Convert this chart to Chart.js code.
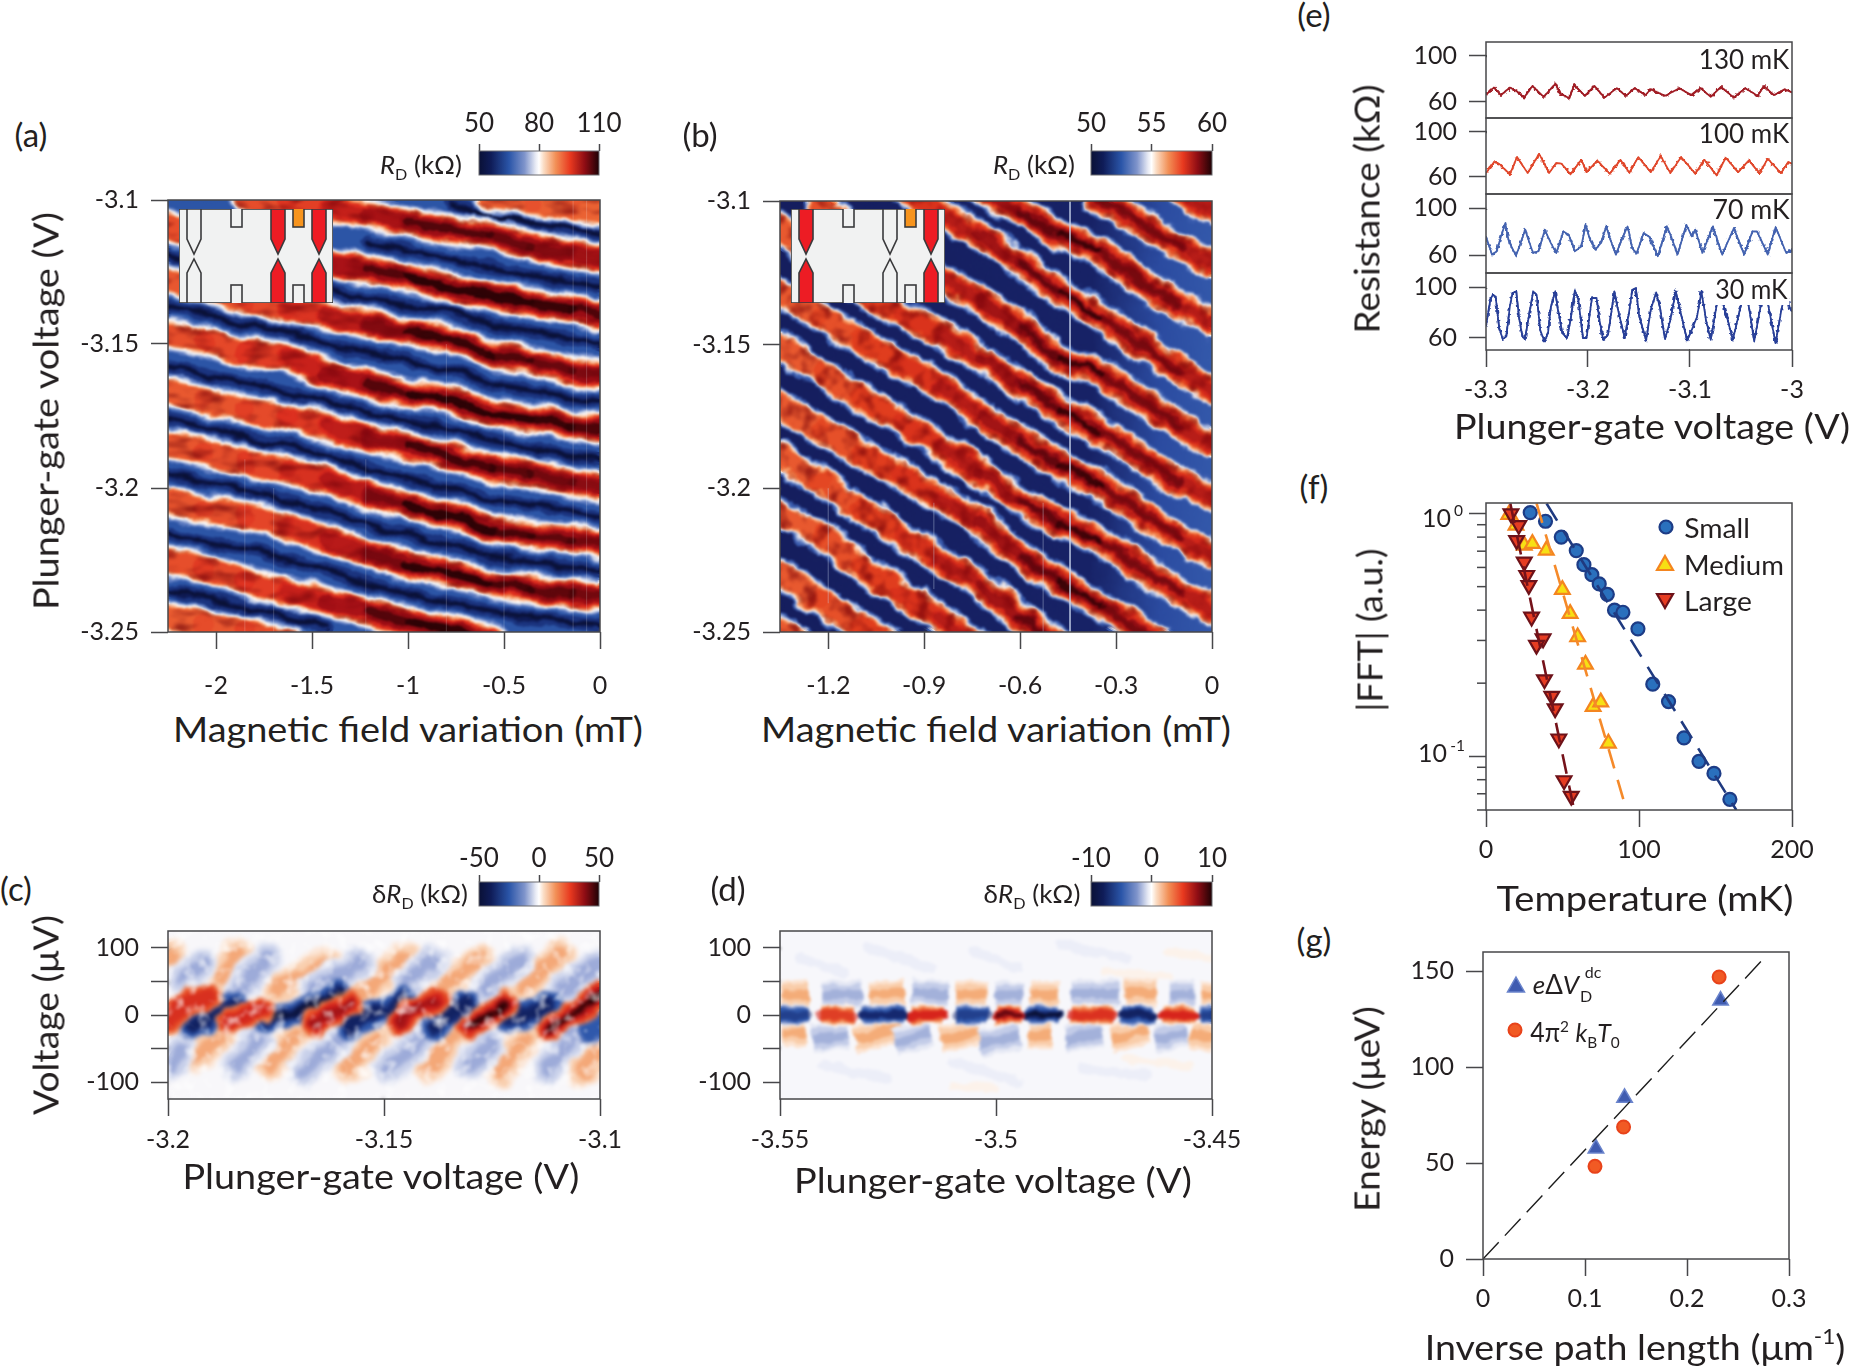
<!DOCTYPE html>
<html>
<head>
<meta charset="utf-8">
<title>Interferometer measurements</title>
<script src="https://cdn.jsdelivr.net/npm/chart.js@4/dist/chart.umd.min.js"></script>
<style>
  html, body { margin: 0; background: #fff; }
  #page { position: relative; width: 1850px; height: 1367px; overflow: hidden; background: #fff; color: #231f20; font-family: Lato, sans-serif; }
  #page canvas { position: absolute; }
  .txt { position: absolute; white-space: nowrap; line-height: 1; }
  .txt sub, .txt sup { font-size: 62%; line-height: 0; }
  .inset { position: absolute; }
</style>
</head>
<body>
<div id="page">
  <svg width="0" height="0" style="position:absolute">
    <filter id="warpA" x="0" y="0" width="100%" height="100%" color-interpolation-filters="sRGB">
      <feTurbulence type="fractalNoise" baseFrequency="0.035 0.05" numOctaves="3" seed="7" result="n"/>
      <feDisplacementMap in="SourceGraphic" in2="n" scale="11" xChannelSelector="R" yChannelSelector="G" result="d"/>
      <feGaussianBlur in="d" stdDeviation="1.2" result="soft"/>
      <feColorMatrix in="soft" type="matrix" values="0 0 0 0 0.42  0 0 0 0 0  0 0 0 0 0.03  0.8 0 -0.8 0 0" result="mask"/>
      <feTurbulence type="fractalNoise" baseFrequency="0.04 0.09" numOctaves="2" seed="5"/>
      <feColorMatrix type="matrix" values="0 0 0 0 0  0 0 0 0 0  0 0 0 0 0  3 0 0 0 -1.35"/>
      <feGaussianBlur stdDeviation="1" result="spots"/>
      <feComposite in="mask" in2="spots" operator="in" result="dark"/>
      <feMerge><feMergeNode in="soft"/><feMergeNode in="dark"/></feMerge>
    </filter>
    <filter id="warpB" x="0" y="0" width="100%" height="100%" color-interpolation-filters="sRGB">
      <feTurbulence type="fractalNoise" baseFrequency="0.05" numOctaves="4" seed="3" result="n"/>
      <feDisplacementMap in="SourceGraphic" in2="n" scale="13" xChannelSelector="R" yChannelSelector="G" result="d"/>
      <feGaussianBlur in="d" stdDeviation="1" result="soft"/>
      <feColorMatrix in="soft" type="matrix" values="0 0 0 0 0.45  0 0 0 0 0  0 0 0 0 0.03  0.85 0 -0.85 0 0" result="mask"/>
      <feTurbulence type="fractalNoise" baseFrequency="0.07" numOctaves="2" seed="9"/>
      <feColorMatrix type="matrix" values="0 0 0 0 0  0 0 0 0 0  0 0 0 0 0  3 0 0 0 -1.3"/>
      <feGaussianBlur stdDeviation="1" result="spots"/>
      <feComposite in="mask" in2="spots" operator="in" result="dark"/>
      <feMerge><feMergeNode in="soft"/><feMergeNode in="dark"/></feMerge>
    </filter>
    <filter id="warpC" x="0" y="0" width="100%" height="100%" color-interpolation-filters="sRGB">
      <feTurbulence type="fractalNoise" baseFrequency="0.06" numOctaves="3" seed="11" result="n"/>
      <feDisplacementMap in="SourceGraphic" in2="n" scale="12" xChannelSelector="R" yChannelSelector="G" result="d"/>
      <feGaussianBlur in="d" stdDeviation="2.2" result="soft"/>
      <feTurbulence type="fractalNoise" baseFrequency="0.08" numOctaves="2" seed="4"/>
      <feColorMatrix type="matrix" values="0 0 0 0 1  0 0 0 0 1  0 0 0 0 1  2 0 0 0 -1"/>
      <feGaussianBlur stdDeviation="1.2" result="spots"/>
      <feMerge><feMergeNode in="soft"/><feMergeNode in="spots"/></feMerge>
    </filter>
    <filter id="warpD" x="0" y="0" width="100%" height="100%" color-interpolation-filters="sRGB">
      <feTurbulence type="fractalNoise" baseFrequency="0.07" numOctaves="3" seed="2" result="n"/>
      <feDisplacementMap in="SourceGraphic" in2="n" scale="8" xChannelSelector="R" yChannelSelector="G" result="d"/>
      <feGaussianBlur in="d" stdDeviation="1.7"/>
    </filter>
    <filter id="warpE" x="0" y="0" width="100%" height="100%" color-interpolation-filters="sRGB">
      <feTurbulence type="fractalNoise" baseFrequency="0.28" numOctaves="2" seed="6" result="n"/>
      <feDisplacementMap in="SourceGraphic" in2="n" scale="5" xChannelSelector="R" yChannelSelector="G"/>
    </filter>
  </svg>
</div>
<script>
// ---- (a) gate voltage of the resistance ridges, one value per field column
const fieldA = [-2.25, -2.06, -1.85, -1.63, -1.42, -1.21, -1, -0.78, -0.57, -0.36, -0.15, 0];
const redRidgesA = [
  [null, null, null, null, null, null, null, null, -3.0988, -3.1006, -3.1021, -3.1038],
  [null, null, -3.0984, -3.1006, -3.1028, -3.105, -3.1079, -3.1101, -3.1123, -3.116, -3.1189, -3.1204],
  [-3.1094, -3.1123, -3.116, -3.1189, -3.1218, -3.124, -3.127, -3.1306, -3.1335, -3.1357, -3.1379, -3.1401],
  [-3.1277, -3.1306, -3.1343, -3.1379, -3.1401, -3.1431, -3.146, -3.1482, -3.1533, -3.1562, -3.1592, -3.1606],
  [-3.1467, -3.1489, -3.1526, -3.1548, -3.1606, -3.1636, -3.1672, -3.1694, -3.1738, -3.176, -3.1782, -3.1797],
  [-3.1665, -3.1694, -3.1731, -3.1753, -3.1789, -3.1826, -3.1855, -3.1892, -3.1929, -3.1951, -3.198, -3.1995],
  [-3.1848, -3.1877, -3.1907, -3.1943, -3.1973, -3.2024, -3.206, -3.2097, -3.2141, -3.2163, -3.2178, -3.2192],
  [-3.2046, -3.2075, -3.2097, -3.2134, -3.2178, -3.2229, -3.2266, -3.2295, -3.2331, -3.2353, -3.2368, -3.2375],
  [-3.2251, -3.228, -3.2324, -3.2361, -3.2397, -3.2427, -3.2463, -3.2493, -3.2522],
  [-3.2449, -3.2471, -3.25, -3.2529]
];
const blueRidgesA = [
  [null, null, null, null, null, null, null, -3.1013, -3.1057, -3.1079, -3.1101, -3.1116],
  [null, null, null, null, null, -3.1145, -3.1174, -3.1204, -3.1233, -3.1262, -3.1284, -3.1299],
  [-3.1189, -3.1218, -3.1248, -3.1277, -3.1313, -3.1343, -3.1365, -3.1387, -3.1431, -3.146, -3.1482, -3.1504],
  [-3.1372, -3.1394, -3.1431, -3.146, -3.1504, -3.1533, -3.1562, -3.1592, -3.1636, -3.1665, -3.1687, -3.1702],
  [-3.1577, -3.1606, -3.1636, -3.1665, -3.1702, -3.1731, -3.1768, -3.1797, -3.1833, -3.1863, -3.1885, -3.1899],
  [-3.176, -3.1789, -3.1826, -3.1855, -3.1885, -3.1929, -3.1965, -3.2002, -3.2039, -3.206, -3.2082, -3.2097],
  [-3.1951, -3.198, -3.2009, -3.2046, -3.2082, -3.2126, -3.2163, -3.22, -3.2236, -3.2258, -3.2273, -3.2288],
  [-3.2156, -3.2185, -3.2214, -3.2251, -3.2288, -3.2331, -3.2368, -3.2397, -3.2427, -3.2449, -3.2463, -3.2478],
  [-3.2353, -3.2383, -3.2412, -3.2449, -3.2485]
];
const hotColumnsA = [0.44, 0.47, 0.52, 0.6, 0.72, 0.85, 1, 1, 0.95, 0.9, 0.86, 0.8];
const hotRidgesA = [0.4, 0.85, 1, 0.9, 1, 0.88, 0.92, 0.92, 1, 0.85];
const streaksA = [
  [[-1.85, -3.19], [-1.85, -3.25]], [[-1.7, -3.2], [-1.7, -3.25]], [[-1.22, -3.19], [-1.22, -3.25]],
  [[-0.8, -3.15], [-0.8, -3.25]], [[-0.5, -3.18], [-0.5, -3.25]], [[-0.14, -3.1], [-0.14, -3.25]], [[-0.07, -3.1], [-0.07, -3.25]]
];

// ---- (b) same thing for the second device
const fieldB = [-1.351, -1.226, -1.101, -0.976, -0.851, -0.726, -0.601, -0.476, -0.351, -0.226, -0.101, 0];
const redRidgesB = [
  [null, null, null, null, null, null, null, null, null, null, -3.097, -3.1037],
  [null, null, null, null, null, null, null, null, -3.0998, -3.1075, -3.1158, -3.1221],
  [null, null, null, null, null, -3.0963, -3.104, -3.1117, -3.1179, -3.1277, -3.1364, -3.1423],
  [null, null, null, -3.095, -3.1044, -3.112, -3.1214, -3.1315, -3.1402, -3.1499, -3.159, -3.1659],
  [null, -3.1016, -3.111, -3.1197, -3.1265, -3.1347, -3.1437, -3.1548, -3.16, -3.1694, -3.1785, -3.1844],
  [-3.1096, -3.12, -3.1318, -3.1392, -3.1461, -3.1548, -3.1635, -3.1726, -3.1802, -3.1886, -3.198, -3.2032],
  [-3.1315, -3.1402, -3.1485, -3.1566, -3.1642, -3.1743, -3.1833, -3.192, -3.1987, -3.2084, -3.2171, -3.223],
  [-3.1503, -3.1597, -3.1684, -3.1767, -3.1851, -3.1945, -3.2042, -3.2122, -3.2185, -3.2272, -3.2362, -3.2425],
  [-3.1712, -3.1795, -3.1879, -3.1952, -3.2039, -3.2119, -3.2234, -3.2321, -3.2408, -3.2491, -3.2582],
  [-3.1886, -3.1976, -3.207, -3.2161, -3.2248, -3.2338, -3.2449, -3.2536],
  [-3.2084, -3.2164, -3.2272, -3.2362, -3.2453, -3.2547],
  [-3.2296, -3.239, -3.2477, -3.2564],
  [-3.2495, -3.2582]
];
const hotColumnsB = [0.34, 0.38, 0.48, 0.58, 0.72, 0.8, 0.88, 0.95, 0.85, 0.85, 0.72, 0.62];
const mainStreakB = [[[-0.444, -3.1], [-0.444, -3.25]]];
const faintStreaksB = [[[-0.528, -3.205], [-0.528, -3.25]], [[-0.87, -3.205], [-0.87, -3.235]], [[-1.2, -3.2], [-1.2, -3.24]]];

// ---- (c) lobes of the bias-voltage map as [gate V, bias uV] polylines
const centreRedC = [
  [[-3.2, -11], [-3.1972, 11], [-3.1906, 28]],
  [[-3.1854, -9], [-3.1783, 8]],
  [[-3.1665, -14], [-3.1632, -1], [-3.1575, 18]],
  [[-3.1466, -11], [-3.1424, 11], [-3.1377, 23]],
  [[-3.1301, -16], [-3.1254, 1], [-3.1216, 16]],
  [[-3.1117, -19], [-3.1065, 1], [-3.1, 31]]
];
const centreRedHeatC = [0.55, 0.6, 0.8, 0.8, 1, 1];
const centreBlueC = [
  [[-3.1948, -19], [-3.1887, 1], [-3.1849, 16]],
  [[-3.1773, -6], [-3.1726, 1], [-3.167, 13], [-3.1603, 31]],
  [[-3.1585, -19], [-3.1537, 1], [-3.149, 8], [-3.1457, 23]],
  [[-3.1386, -19], [-3.1348, 1], [-3.1311, 16]],
  [[-3.1212, -6], [-3.116, 3], [-3.1117, 16]],
  [[-3.1023, -24], [-3.1, -1]]
];
const centreBlueHeatC = [0.8, 1, 0.8, 0.8, 0.8, 0.4];
const sideOrangeC = [
  [[-3.2, 83], [-3.1986, 90]],
  [[-3.1877, 56], [-3.1839, 90]], [[-3.1745, 41], [-3.1632, 76]], [[-3.1547, 36], [-3.1452, 85]],
  [[-3.1358, 46], [-3.1282, 81]], [[-3.1178, 41], [-3.1093, 90]],
  [[-3.1943, -64], [-3.1877, -34]], [[-3.1764, -74], [-3.1707, -34]], [[-3.1585, -79], [-3.1518, -34]],
  [[-3.1396, -79], [-3.1339, -34]], [[-3.1235, -84], [-3.1169, -34]], [[-3.1037, -84], [-3.1, -44]]
];
const sideBlueC = [
  [[-3.1962, 56], [-3.1924, 76]], [[-3.183, 41], [-3.1773, 85]], [[-3.166, 41], [-3.1556, 76]],
  [[-3.1443, 51], [-3.1386, 81]], [[-3.1263, 41], [-3.1188, 81]], [[-3.1084, 41], [-3.1, 76]],
  [[-3.1991, -74], [-3.1972, -54]], [[-3.1839, -74], [-3.1792, -39]], [[-3.1688, -84], [-3.1603, -39]],
  [[-3.149, -79], [-3.1415, -39]], [[-3.1301, -74], [-3.1254, -44]], [[-3.1122, -79], [-3.1065, -34]]
];

// ---- (d)
const centreRedD = [
  [[-3.5404, 0], [-3.533, 0]], [[-3.5193, 0], [-3.5123, 0]], [[-3.4999, 0], [-3.4941, 0]],
  [[-3.4826, 0], [-3.4731, 0]], [[-3.4615, 0], [-3.4541, 0]]
];
const centreRedHeatD = [0.6, 0.75, 1, 0.65, 0.75];
const centreBlueD = [
  [[-3.55, 0], [-3.5433, 0]], [[-3.5309, 0], [-3.521, 0]], [[-3.5094, 0], [-3.502, 0]],
  [[-3.4925, 0], [-3.4855, 0]], [[-3.471, 0], [-3.4636, 0]], [[-3.4528, 0], [-3.45, 0]]
];
const centreBlueHeatD = [0.55, 0.7, 0.55, 1, 0.8, 0.55];
const sideOrangeD = [
  [[-3.5495, 30], [-3.5433, 30]], [[-3.5293, 30], [-3.521, 33]], [[-3.5094, 30], [-3.502, 30]],
  [[-3.4921, 30], [-3.4855, 30]], [[-3.4702, 34], [-3.4627, 34]], [[-3.4524, 30], [-3.45, 30]],
  [[-3.5495, -27], [-3.5441, -27]], [[-3.5326, -36], [-3.5218, -20]], [[-3.5127, -36], [-3.5036, -24]],
  [[-3.4925, -30], [-3.4871, -30]], [[-3.4731, -36], [-3.4648, -22]], [[-3.4549, -30], [-3.45, -34]]
];
const sideBlueD = [
  [[-3.5404, 30], [-3.5309, 30]], [[-3.5193, 34], [-3.5111, 30]], [[-3.5003, 30], [-3.4937, 30]],
  [[-3.4826, 32], [-3.4714, 32]], [[-3.4602, 30], [-3.4541, 30]],
  [[-3.5425, -36], [-3.5342, -30]], [[-3.5235, -42], [-3.5152, -26]], [[-3.5036, -42], [-3.4945, -30]],
  [[-3.4838, -36], [-3.4755, -26]], [[-3.4631, -36], [-3.4557, -26]]
];
const paleBlueD = [
  [[-3.545, 85], [-3.535, 62]], [[-3.53, 100], [-3.515, 70]], [[-3.505, 95], [-3.495, 70]], [[-3.54, -75], [-3.525, -95]],
  [[-3.51, -70], [-3.495, -100]], [[-3.485, 105], [-3.47, 85]], [[-3.48, -80], [-3.465, -90]]
];
const paleOrangeD = [
  [[-3.475, 65], [-3.46, 58]], [[-3.46, 95], [-3.45, 85]], [[-3.51, -105], [-3.5, -110]], [[-3.47, -65], [-3.455, -75]]
];

// ---- (e) resistance traces as [gate V, kOhm]
const trace130 = [[-3.3, 65.8], [-3.2923, 72.3], [-3.2853, 65.6], [-3.2766, 72.3], [-3.2696, 68.8], [-3.2626, 63.5], [-3.2545, 73.7], [-3.2434, 64.1], [-3.2318, 75.8], [-3.2276, 67], [-3.2182, 62.9], [-3.2136, 74.6], [-3.2031, 65], [-3.1937, 73.7], [-3.1839, 63.5], [-3.1717, 71.7], [-3.1629, 65], [-3.1542, 71.7], [-3.1437, 65.8], [-3.1385, 70.8], [-3.1245, 65], [-3.1105, 71.7], [-3.0983, 65.6], [-3.0895, 71.7], [-3.0797, 64.1], [-3.0696, 72.9], [-3.057, 63.5], [-3.0458, 71.7], [-3.0336, 65], [-3.0276, 73.7], [-3.0178, 65.6], [-3.0073, 70.8], [-3, 67.9]];
const trace100 = [[-3.3, 63.2], [-3.2923, 72.9], [-3.2871, 71.5], [-3.2766, 62.1], [-3.2696, 77.4], [-3.2591, 63.2], [-3.2479, 80.3], [-3.2381, 63.2], [-3.2311, 72.1], [-3.2259, 71.5], [-3.2171, 62.1], [-3.2066, 75], [-3.2014, 64.1], [-3.1909, 74.4], [-3.1787, 62.6], [-3.1682, 75], [-3.1594, 63.5], [-3.1507, 77.4], [-3.1385, 64.1], [-3.1287, 78.2], [-3.1192, 63.2], [-3.1087, 77.4], [-3.0948, 62.6], [-3.086, 75], [-3.0738, 61.2], [-3.065, 76.8], [-3.0528, 64.1], [-3.0423, 74.4], [-3.0318, 63.2], [-3.0238, 75.9], [-3.0108, 63.2], [-3.0038, 72.9], [-3, 71.5]];
const trace70 = [[-3.3, 76], [-3.2941, 60.6], [-3.2895, 63.4], [-3.2853, 76], [-3.2811, 87.3], [-3.2776, 71.8], [-3.2706, 59.7], [-3.2661, 70.4], [-3.2615, 81.7], [-3.2573, 70.4], [-3.2538, 62], [-3.2486, 63.4], [-3.2423, 81.7], [-3.2364, 70.4], [-3.2311, 62], [-3.2241, 80.3], [-3.2189, 77.5], [-3.2129, 63.4], [-3.2066, 67.6], [-3.2024, 85.9], [-3.1979, 73.2], [-3.1927, 64.8], [-3.1874, 70.4], [-3.1822, 84.5], [-3.178, 73.2], [-3.1727, 60.6], [-3.1664, 74.6], [-3.1612, 84.5], [-3.1566, 66.2], [-3.1524, 61.4], [-3.1455, 78.9], [-3.1402, 76], [-3.1315, 59.2], [-3.1227, 84.5], [-3.1185, 76], [-3.1122, 60.6], [-3.1035, 85.9], [-3.0983, 76], [-3.0948, 81.7], [-3.0878, 62], [-3.0776, 84.5], [-3.0685, 60.6], [-3.057, 83.1], [-3.0469, 60.6], [-3.0388, 80.3], [-3.0343, 80.3], [-3.0238, 60.6], [-3.0161, 83.9], [-3.0056, 62], [-3, 64.8]];
const trace30 = [[-3.3, 68.8], [-3.2958, 90.1], [-3.2934, 94.1], [-3.2906, 92.8], [-3.2871, 67.5], [-3.2836, 58.7], [-3.2801, 60.8], [-3.2766, 84.8], [-3.2741, 95.5], [-3.2703, 96.8], [-3.2678, 76.8], [-3.2643, 60.8], [-3.2619, 58.7], [-3.258, 76.8], [-3.2538, 96.8], [-3.2503, 94.1], [-3.2469, 66.1], [-3.2427, 56.8], [-3.2392, 63.5], [-3.2364, 84.8], [-3.2322, 96.8], [-3.2294, 82.1], [-3.2252, 63.5], [-3.2206, 59.5], [-3.2171, 74.1], [-3.2129, 97.6], [-3.2094, 90.1], [-3.2049, 59.5], [-3.2014, 59.5], [-3.1962, 91.5], [-3.1916, 91.5], [-3.1888, 74.1], [-3.185, 58.1], [-3.1804, 62.1], [-3.1741, 96.8], [-3.1706, 82.1], [-3.164, 59.5], [-3.1594, 82.1], [-3.1566, 98.1], [-3.1531, 99.5], [-3.1497, 76.8], [-3.143, 57.6], [-3.1385, 82.1], [-3.1332, 96], [-3.1297, 84.8], [-3.1245, 58.7], [-3.1192, 74.1], [-3.114, 96.8], [-3.1105, 84.8], [-3.1028, 57.6], [-3.0983, 66.1], [-3.093, 76.8], [-3.0888, 96.8], [-3.0843, 74.1], [-3.0797, 58.1], [-3.0738, 86.1], [-3.0703, 94], [-3.0643, 78], [-3.058, 58.1], [-3.0503, 84.8], [-3.0458, 95.5], [-3.0423, 84.8], [-3.0371, 56.8], [-3.0308, 84.8], [-3.0273, 95.5], [-3.0231, 84.8], [-3.0161, 55.5], [-3.0098, 84.8], [-3.0056, 95.5], [-3.0021, 83.5], [-3, 80.8]];

// ---- (f) FFT amplitude against temperature
const smallPts = [[28.9, 1.01], [38.9, 0.93], [49.2, 0.8], [59, 0.704], [64, 0.616], [69.2, 0.56], [74, 0.513], [79.3, 0.465], [84, 0.4], [89.5, 0.392], [99.3, 0.335], [109, 0.198], [119.3, 0.168], [129.4, 0.119], [139.2, 0.0952], [149, 0.0849], [159.4, 0.0664]];
const mediumPts = [[14.9, 0.99], [19.6, 0.895], [25, 0.74], [30.3, 0.752], [39.4, 0.706], [49.9, 0.486], [55, 0.387], [59.9, 0.31], [65, 0.239], [70, 0.16], [75, 0.167], [80, 0.113]];
const largePts = [[16.3, 1], [21.4, 0.895], [20, 0.776], [25, 0.632], [26.6, 0.557], [28, 0.506], [29.8, 0.375], [37.3, 0.305], [33, 0.287], [38.2, 0.207], [43, 0.177], [45.2, 0.157], [47.6, 0.118], [51, 0.0794], [55.7, 0.0685]];
const smallFit = [[39.6, 1.1], [163.6, 0.06]];
const mediumFit = [[33.1, 1.1], [91.8, 0.06]];
const largeFit = [[15.9, 1.1], [57.6, 0.06]];
const fftMinorTicks = [0.9, 0.8, 0.7, 0.6, 0.5, 0.4, 0.3, 0.2, 0.09, 0.08, 0.07, 0.06];

// ---- (g) energy scale against inverse path length
const biasEnergy = [[0.1107, 57.6], [0.1388, 84], [0.2329, 134.7]];
const thermalEnergy = [[0.1098, 48.3], [0.1378, 68.8], [0.2315, 147]];
const energyFit = [[0, 0], [0.2724, 155]];

// shared look
const INK = '#47474a';
const FONT = 'Lato';
const barStops = [
  [0, '#0a1136'], [0.1, '#0f1c58'], [0.25, '#2a55a8'], [0.38, '#7f94cb'], [0.47, '#e6e9f4'], [0.5, '#ffffff'],
  [0.54, '#fbdcc3'], [0.64, '#f28f56'], [0.76, '#e8391f'], [0.88, '#8f0d14'], [1, '#1f0205']
];

const page = document.getElementById('page');

function rgba(hex, a) {
  const n = parseInt(hex.slice(1), 16);
  return `rgba(${n >> 16},${(n >> 8) & 255},${n & 255},${Math.max(0, Math.min(1, a))})`;
}

// real text placed by its centre; w squeezes it to a given run length
function text(html, cx, cy, size, o = {}) {
  const s = document.createElement('span');
  s.className = 'txt';
  s.innerHTML = html;
  s.style.cssText = `left:${cx}px;top:${cy}px;font-size:${size}px;` + (o.css || '');
  page.appendChild(s);
  const k = o.w ? o.w / s.offsetWidth : 1;
  s.style.transform = `translate(-50%,-50%) rotate(${o.rot || 0}deg) scaleX(${k})`;
  return s;
}

const framePlugin = (color = INK, width = 1.5) => ({
  id: 'frame',
  afterDraw(chart) {
    const { ctx, chartArea: a } = chart;
    ctx.save();
    ctx.strokeStyle = color;
    ctx.lineWidth = width;
    ctx.strokeRect(a.left, a.top, a.width, a.height);
    ctx.restore();
  }
});

// backdrop of a map, painted over the grid and under the strokes
const backdropPlugin = (paint) => ({
  id: 'backdrop',
  beforeDatasetsDraw(chart) {
    const { ctx, chartArea: a } = chart;
    ctx.save();
    ctx.fillStyle = paint(ctx, a);
    ctx.fillRect(a.left, a.top, a.width, a.height);
    ctx.restore();
  }
});

// re-lays the finished strokes through an svg filter so the bands get their rough edges
const roughenPlugin = (filter, streakSets = []) => ({
  id: 'roughen',
  afterDatasetsDraw(chart) {
    const { ctx, canvas, chartArea: a, scales: { x, y } } = chart;
    ctx.save();
    ctx.beginPath();
    ctx.rect(a.left, a.top, a.width, a.height);
    ctx.clip();
    ctx.filter = filter;
    ctx.drawImage(canvas, 0, 0);
    ctx.filter = 'none';
    // sweep artefacts stay straight, they run on top of the rough bands
    streakSets.forEach(set => set.lines.forEach(s => {
      ctx.strokeStyle = set.c;
      ctx.lineWidth = set.w;
      ctx.beginPath();
      s.forEach(([vx, vy], i) => {
        const px = x.getPixelForValue(vx), py = y.getPixelForValue(vy);
        if (i) ctx.lineTo(px, py); else ctx.moveTo(px, py);
      });
      ctx.stroke();
    }));
    ctx.restore();
  }
});

function axis(position, min, max, ticks, label, o = {}) {
  const horizontal = position === 'bottom' || position === 'top';
  return {
    type: o.type || 'linear',
    position, min, max,
    display: o.display !== false,
    z: 1,
    grid: { drawOnChartArea: false, drawTicks: true, tickLength: o.tick ?? 17, tickColor: INK, tickWidth: 1.5 },
    border: { display: false },
    ticks: {
      autoSkip: false, maxRotation: 0, minRotation: 0, color: '#231f20',
      padding: o.pad ?? (horizontal ? 18 : 12),
      font: { family: FONT, size: o.size || 25 },
      callback: label
    },
    afterBuildTicks(s) { s.ticks = ticks.map(value => ({ value })); },
    afterFit(s) { if (horizontal) s.height = o.room; else s.width = o.room; }
  };
}

// a chart whose plot area sits exactly on the given page rectangle
const ROOM = { l: 120, t: 40, r: 60, b: 70 };
function place(box, room, config) {
  const c = document.createElement('canvas');
  const left = box.l - room.l, top = box.t - room.t;
  const w = box.r - box.l + room.l + room.r, h = box.b - box.t + room.t + room.b;
  c.width = w; c.height = h;
  c.style.left = left + 'px';
  c.style.top = top + 'px';
  page.appendChild(c);
  config.options = Object.assign({
    responsive: false, animation: false, events: [],
    layout: { padding: { top: config.topAxis ? 0 : room.t, right: room.r, left: config.noLeft ? room.l : 0, bottom: config.noBottom ? room.b : 0 } }
  }, config.options);
  config.options.plugins = Object.assign({ legend: { display: false }, tooltip: { enabled: false } }, config.options.plugins);
  return new Chart(c, config);
}

// stacked strokes along each polyline; a layer with `from` fades in with the local heat
let drawRank = 100000;
function strokes(lines, layers, heat) {
  return layers.flatMap(layer => lines.map((pts, i) => {
    const ds = {
      data: pts.map(p => ({ x: p[0], y: p[1] })),
      showLine: true, pointRadius: 0, tension: 0.25,
      borderColor: layer.c, borderWidth: layer.w,
      borderCapStyle: layer.cap || 'round', borderJoinStyle: 'round',
      order: drawRank--
    };
    if (layer.from !== undefined) {
      ds.segment = { borderColor: c => rgba(layer.c, (heat(i, pts[c.p0DataIndex]) - layer.from) / layer.span) };
    }
    return ds;
  }));
}

const onColumns = (ridges, cols) => ridges.map(r => r.map((y, i) => (y === null ? null : [cols[i], y, i])).filter(Boolean));
const named = list => v => { const k = list.indexOf(v); return k < 0 ? '' : String(list[k]); };

// ---- panel (a)
const layersBlueA = [{ w: 13, c: '#1b347f' }, { w: 6, c: '#0f1b55' }, { w: 2.5, c: '#0a1136' }];
const layersRedA = [
  { w: 36, c: '#5f7dc2' }, { w: 32, c: '#c8d2ea' }, { w: 29, c: '#fff8f3' }, { w: 26, c: '#f9b88f' }, { w: 23, c: '#ee6c38' },
  { w: 20, c: '#dd2c1e', from: 0.3, span: 0.3 }, { w: 15, c: '#9c0d15', from: 0.52, span: 0.25 }, { w: 8, c: '#2d0306', from: 0.72, span: 0.2 }
];
place({ l: 167.5, t: 199.5, r: 599.5, b: 631.5 }, ROOM, {
  type: 'scatter',
  data: { datasets: [
    ...strokes(onColumns(blueRidgesA, fieldA), layersBlueA),
    ...strokes(onColumns(redRidgesA, fieldA), layersRedA, (i, p) => hotColumnsA[p[2]] * hotRidgesA[i])
  ] },
  plugins: [backdropPlugin(() => '#2c55a6'), roughenPlugin('url(#warpA)', [{ lines: streaksA, w: 1.2, c: 'rgba(255,255,255,0.16)' }]), framePlugin()],
  options: { scales: {
    x: axis('bottom', -2.25, 0, [-2, -1.5, -1, -0.5, 0], v => String(v), { room: 70, pad: 22 }),
    y: axis('left', -3.25, -3.1, [-3.1, -3.15, -3.2, -3.25], v => String(v), { room: 120 })
  } }
});

// ---- panel (b)
const layersRedB = [
  { w: 34, c: '#3a5cae' }, { w: 30, c: '#a9b9df' }, { w: 27, c: '#fff4ec' }, { w: 25, c: '#f9a877' }, { w: 22, c: '#f07a44' },
  { w: 19, c: '#e2401f', from: 0.2, span: 0.25 }, { w: 15, c: '#d2281b', from: 0.45, span: 0.25 }, { w: 10, c: '#8f0c14', from: 0.62, span: 0.25 }, { w: 5, c: '#2d0306', from: 0.8, span: 0.18 }
];
place({ l: 780, t: 200.5, r: 1212, b: 631.5 }, ROOM, {
  type: 'scatter',
  data: { datasets: strokes(onColumns(redRidgesB, fieldB), layersRedB, (i, p) => hotColumnsB[p[2]]) },
  plugins: [backdropPlugin((ctx, a) => {
    const g = ctx.createLinearGradient(a.left, 0, a.right, 0);
    g.addColorStop(0, '#151e5e');
    g.addColorStop(0.72, '#172266');
    g.addColorStop(0.88, '#2b4ba0');
    g.addColorStop(1, '#3358aa');
    return g;
  }), roughenPlugin('url(#warpB)', [
    { lines: mainStreakB, w: 1.8, c: 'rgba(206,218,240,0.75)' },
    { lines: faintStreaksB, w: 1.4, c: 'rgba(206,218,240,0.28)' }
  ]), framePlugin()],
  options: { scales: {
    x: axis('bottom', -1.351, 0, [-1.2, -0.9, -0.6, -0.3, 0], v => String(v), { room: 70, pad: 22 }),
    y: axis('left', -3.25, -3.1, [-3.1, -3.15, -3.2, -3.25], v => String(v), { room: 120 })
  } }
});

// ---- panels (c) and (d)
const faintOrange = [{ w: 34, c: '#fce7d8' }, { w: 26, c: '#f9cfaf' }, { w: 14, c: '#f4a878' }];
const faintBlue = [{ w: 34, c: '#e6e9f5' }, { w: 26, c: '#c8d0ea' }, { w: 14, c: '#9dabd9' }];
const coreBlue = [{ w: 27, c: '#7f94cb' }, { w: 23, c: '#2f58ab' }, { w: 14, c: '#15286f', from: 0.45, span: 0.3 }, { w: 6, c: '#0a1136', from: 0.75, span: 0.2 }];
const coreRed = [{ w: 27, c: '#f29a68' }, { w: 23, c: '#e64a24' }, { w: 15, c: '#cf1f1c', from: 0.4, span: 0.25 }, { w: 9, c: '#7a0a12', from: 0.7, span: 0.2 }, { w: 4, c: '#240305', from: 0.9, span: 0.1 }];

const bipolarY = (lab) => axis('left', -125, 125, [100, 50, 0, -50, -100], lab, { room: 120 });

place({ l: 167.5, t: 931, r: 599.5, b: 1099.5 }, ROOM, {
  type: 'scatter',
  data: { datasets: [
    ...strokes(sideOrangeC, faintOrange),
    ...strokes(sideBlueC, faintBlue),
    ...strokes(centreBlueC, coreBlue, i => centreBlueHeatC[i]),
    ...strokes(centreRedC, coreRed, i => centreRedHeatC[i])
  ] },
  plugins: [backdropPlugin(() => '#f8f7fa'), roughenPlugin('url(#warpC)'), framePlugin()],
  options: { scales: {
    x: axis('bottom', -3.2, -3.1, [-3.2, -3.15, -3.1], v => String(v), { room: 70, pad: 9 }),
    y: bipolarY(named([100, 0, -100]))
  } }
});

const thinBlue = [{ w: 21, c: '#e9ecf6', cap: 'butt' }, { w: 18, c: '#7f94cb', cap: 'butt' }, { w: 14, c: '#2f58ab', cap: 'butt' }, { w: 8, c: '#15286f', from: 0.4, span: 0.3 }, { w: 4, c: '#0a1136', from: 0.75, span: 0.2 }];
const thinRed = [{ w: 21, c: '#fff3ea', cap: 'butt' }, { w: 18, c: '#f6ae80', cap: 'butt' }, { w: 14, c: '#ec6434', cap: 'butt' }, { w: 9, c: '#d7241c', from: 0.45, span: 0.25 }, { w: 5, c: '#6a0810', from: 0.85, span: 0.15 }];
const sideOrangeStyle = [{ w: 28, c: '#fce3d0', cap: 'butt' }, { w: 20, c: '#f9cdaa', cap: 'butt' }, { w: 9, c: '#f4ac78', cap: 'butt' }];
const sideBlueStyle = [{ w: 28, c: '#e5e8f4', cap: 'butt' }, { w: 20, c: '#c3cce8', cap: 'butt' }, { w: 9, c: '#a3b1da', cap: 'butt' }];

place({ l: 780, t: 931, r: 1212, b: 1099.5 }, ROOM, {
  type: 'scatter',
  data: { datasets: [
    ...strokes(paleBlueD, [{ w: 10, c: '#eceef8' }]),
    ...strokes(paleOrangeD, [{ w: 8, c: '#fcf2ea' }]),
    ...strokes(sideOrangeD, sideOrangeStyle),
    ...strokes(sideBlueD, sideBlueStyle),
    ...strokes(centreBlueD, thinBlue, i => centreBlueHeatD[i]),
    ...strokes(centreRedD, thinRed, i => centreRedHeatD[i])
  ] },
  plugins: [backdropPlugin(() => '#f7f7fb'), roughenPlugin('url(#warpD)'), framePlugin()],
  options: { scales: {
    x: axis('bottom', -3.55, -3.45, [-3.55, -3.5, -3.45], v => String(v), { room: 70, pad: 9 }),
    y: bipolarY(named([100, 0, -100]))
  } }
});

// ---- colour bars
function colourBar(box, range, ticks, pad) {
  place(box, { l: 30, t: 48, r: 40, b: 6 }, {
    type: 'bar',
    topAxis: true, noBottom: true, noLeft: true,
    data: { labels: ['scale'], datasets: [{
      data: [[range[0], range[1]]],
      barPercentage: 1, categoryPercentage: 1,
      backgroundColor(c) {
        const a = c.chart.chartArea;
        if (!a) return '#888';
        const g = c.chart.ctx.createLinearGradient(a.left, 0, a.right, 0);
        barStops.forEach(([p, col]) => g.addColorStop(p, col));
        return g;
      }
    }] },
    plugins: [framePlugin('#6a6a6e', 1)],
    options: { indexAxis: 'y', scales: {
      x: axis('top', range[0], range[1], ticks, v => String(v), { room: 48, tick: 7, pad, size: 26 }),
      y: { display: false }
    } }
  });
}
colourBar({ l: 479, t: 151, r: 599.5, b: 175.5 }, [50, 110], [50, 80, 110], 5);
colourBar({ l: 1091, t: 151, r: 1212, b: 175.5 }, [50, 60], [50, 55, 60], 5);
colourBar({ l: 479, t: 882, r: 599.5, b: 906 }, [-50, 50], [-50, 0, 50], 1);
colourBar({ l: 1091, t: 882, r: 1212, b: 906 }, [-10, 10], [-10, 0, 10], 1);

// ---- panel (e): four stacked traces on a common gate axis
const traceBoxes = [
  { trace: trace130, color: '#a01c24', top: 41.5, bottom: 117.5, range: [45.7, 112], withAxis: false },
  { trace: trace100, color: '#e0472b', top: 117.5, bottom: 194, range: [44.7, 112], withAxis: false },
  { trace: trace70, color: '#4463b0', top: 194, bottom: 273, range: [45, 112], withAxis: false },
  { trace: trace30, color: '#283f98', top: 273, bottom: 350, range: [50, 111.5], withAxis: true }
];
traceBoxes.forEach(p => {
  place({ l: 1485.5, t: p.top, r: 1792, b: p.bottom }, { l: 120, t: 40, r: 50, b: p.withAxis ? 70 : 40 }, {
    type: 'scatter',
    noBottom: !p.withAxis,
    data: { datasets: [{
      data: p.trace.map(([x, y]) => ({ x, y })),
      showLine: true, pointRadius: 0, borderColor: p.color, borderWidth: 1.7, borderJoinStyle: 'round'
    }] },
    plugins: [roughenPlugin('url(#warpE)'), framePlugin()],
    options: { scales: {
      x: axis('bottom', -3.3, -3, [-3.3, -3.2, -3.1, -3], v => String(v), { room: p.withAxis ? 70 : 0, display: p.withAxis, pad: 8 }),
      y: axis('left', p.range[0], p.range[1], [60, 100], v => String(v), { room: 120 })
    } }
  });
});

// ---- panel (f)
const minorTicksPlugin = {
  id: 'minorTicks',
  afterDraw(chart) {
    const { ctx, scales: { y }, chartArea: a } = chart;
    ctx.save();
    ctx.strokeStyle = INK;
    ctx.lineWidth = 1.5;
    fftMinorTicks.forEach(v => {
      const py = y.getPixelForValue(v);
      ctx.beginPath();
      ctx.moveTo(a.left - 9, py);
      ctx.lineTo(a.left, py);
      ctx.stroke();
    });
    ctx.restore();
  }
};
const asPoints = list => list.map(([x, y]) => ({ x, y }));
const fitLine = (pts, color) => ({
  data: asPoints(pts), showLine: true, pointRadius: 0, borderColor: color, borderWidth: 2.6, borderDash: [20, 12]
});
place({ l: 1485.5, t: 503, r: 1792, b: 810 }, ROOM, {
  type: 'scatter',
  data: { datasets: [
    fitLine(smallFit, '#1f3a80'),
    fitLine(mediumFit, '#f58a2a'),
    fitLine(largeFit, '#75121a'),
    { data: asPoints(largePts), pointStyle: 'triangle', rotation: 180, radius: 8.5, backgroundColor: '#e63c22', borderColor: '#6d1219', borderWidth: 2.2 },
    { data: asPoints(mediumPts), pointStyle: 'triangle', radius: 8.5, backgroundColor: '#f7e014', borderColor: '#f4851f', borderWidth: 2.2 },
    { data: asPoints(smallPts), pointStyle: 'circle', radius: 6.5, backgroundColor: '#2a70bd', borderColor: '#1d3c86', borderWidth: 2.2 }
  ] },
  plugins: [framePlugin(), minorTicksPlugin],
  options: { scales: {
    x: axis('bottom', 0, 200, [0, 100, 200], v => String(v), { room: 70, pad: 8 }),
    y: axis('left', 0.06, 1.106, [1, 0.1], () => '', { room: 120, type: 'logarithmic' })
  } }
});

// ---- panel (g)
place({ l: 1483, t: 952, r: 1789.5, b: 1259.5 }, ROOM, {
  type: 'scatter',
  data: { datasets: [
    { data: asPoints(thermalEnergy), pointStyle: 'circle', radius: 6.5, backgroundColor: '#f15a24', borderColor: '#e8431a', borderWidth: 2 },
    { data: asPoints(energyFit), showLine: true, pointRadius: 0, borderColor: '#1c1c1c', borderWidth: 1.4, borderDash: [23, 9] },
    { data: asPoints(biasEnergy), pointStyle: 'triangle', radius: 9, backgroundColor: '#3f5bb0', borderColor: '#6a84cc', borderWidth: 1.5 }
  ] },
  plugins: [framePlugin()],
  options: { scales: {
    x: axis('bottom', 0, 0.3, [0, 0.1, 0.2, 0.3], v => String(v), { room: 70, pad: 8 }),
    y: axis('left', 0, 160, [0, 50, 100, 150], v => String(v), { room: 120 })
  } }
});

// ---- device sketches over the maps
function deviceSketch(x, y, gates) {
  const qpc = (cx, fill) => {
    const top = `M${cx - 7},0V30L${cx},45L${cx + 7},30V0Z`;
    const bottom = `M${cx - 7},94V64L${cx},50L${cx + 7},64V94Z`;
    return `<path d="${top}" fill="${fill}"/><path d="${bottom}" fill="${fill}"/>`;
  };
  const red = '#ed1c24', clear = '#f1f2f2';
  page.insertAdjacentHTML('beforeend', `<svg class="inset" style="left:${x}px;top:${y}px" width="154" height="94" viewBox="0 0 154 94">
    <g stroke="#3a3a3c" stroke-width="1.6" stroke-linejoin="miter">
      <rect x="0" y="0" width="154" height="94" fill="${clear}"/>
      ${qpc(15, gates[0] ? red : clear)}${qpc(99, gates[1] ? red : clear)}${qpc(140, gates[2] ? red : clear)}
      <rect x="52" y="-1" width="11" height="19" fill="${clear}"/><rect x="52" y="76" width="11" height="19" fill="${clear}"/>
      <rect x="114" y="-1" width="11" height="19" fill="#f7941d"/><rect x="114" y="76" width="11" height="19" fill="${clear}"/>
    </g></svg>`);
}
deviceSketch(179, 209, [false, true, true]);
deviceSketch(790.5, 209, [true, false, true]);

// ---- text
const RD = '<i>R</i><sub>D</sub> (kΩ)';
const DRD = 'δ<i>R</i><sub>D</sub> (kΩ)';
[['(a)', 31, 134], ['(b)', 700, 134], ['(c)', 16, 888], ['(d)', 728, 888], ['(e)', 1314, 14], ['(f)', 1314, 486], ['(g)', 1314, 939]]
  .forEach(([t, x, y]) => text(t, x, y, 33));

text('Magnetic field variation (mT)', 408, 728, 35, { w: 470 });
text('Magnetic field variation (mT)', 996, 728, 35, { w: 470 });
text('Plunger-gate voltage (V)', 45, 411, 35, { rot: -90, w: 398 });
text(RD, 421, 164, 25, { w: 82 });
text(RD, 1034, 164, 25, { w: 82 });
text('Plunger-gate voltage (V)', 381, 1175, 35, { w: 397 });
text('Plunger-gate voltage (V)', 993, 1179, 35, { w: 398 });
text('Voltage (μV)', 45, 1015, 35, { rot: -90, w: 200 });
text(DRD, 420, 893, 25, { w: 96 });
text(DRD, 1032, 893, 25, { w: 97 });

text('Resistance (kΩ)', 1366, 209, 35, { rot: -90, w: 249 });
text('Plunger-gate voltage (V)', 1652, 425, 35, { w: 396 });
text('130 mK', 1744, 59, 26, { w: 90 });
text('100 mK', 1744, 133, 26, { w: 90 });
text('70 mK', 1751, 209, 26, { w: 77 });
text('30 mK', 1751, 290, 26, { w: 77, css: 'background:#fff;padding:1px 2px 3px 3px;' });

text('|FFT| (a.u.)', 1369, 630, 35, { rot: -90, w: 163 });
text('Temperature (mK)', 1645, 897, 35, { w: 297 });
text('10<sup style="position:relative;top:-2px;left:3px">0</sup>', 1441, 517, 25);
text('10<sup style="position:relative;top:-2px;left:3px">-1</sup>', 1440, 752, 25);
text('Small', 1717, 527, 27, { w: 66 });
text('Medium', 1734, 564, 27, { w: 100 });
text('Large', 1718, 600, 27, { w: 68 });

// legend glyphs follow the marker styles of the charts above
const glyph = (x, y, body) => page.insertAdjacentHTML('beforeend',
  `<svg class="inset" style="left:${x - 12}px;top:${y - 12}px" width="24" height="24" viewBox="-12 -12 24 24">${body}</svg>`);
glyph(1666, 527, '<circle r="6.5" fill="#2a70bd" stroke="#1d3c86" stroke-width="2.2"/>');
glyph(1665, 564, '<path d="M0,-8L8,6H-8Z" fill="#f7e014" stroke="#f4851f" stroke-width="2.2"/>');
glyph(1665, 600, '<path d="M0,8L8,-6H-8Z" fill="#e63c22" stroke="#6d1219" stroke-width="2.2"/>');
glyph(1516, 985, '<path d="M0,-8L8.5,7H-8.5Z" fill="#3f5bb0" stroke="#6a84cc" stroke-width="1.5"/>');
glyph(1515, 1030, '<circle r="6.5" fill="#f15a24" stroke="#e8431a" stroke-width="2"/>');

text('Energy (μeV)', 1366, 1109, 35, { rot: -90, w: 206 });
text('Inverse path length (μm<sup style="font-size:60%;position:relative;top:-3px">-1</sup>)', 1635, 1346, 35, { w: 421 });
text('<i>e</i>Δ<i>V</i>', 1556, 984, 26);
text('dc', 1593, 972, 16);
text('D', 1586, 996, 16);
text('4π<sup>2</sup> <i>k</i><sub>B</sub><i>T</i><sub>0</sub>', 1575, 1032, 26, { w: 89 });
</script>
</body>
</html>
